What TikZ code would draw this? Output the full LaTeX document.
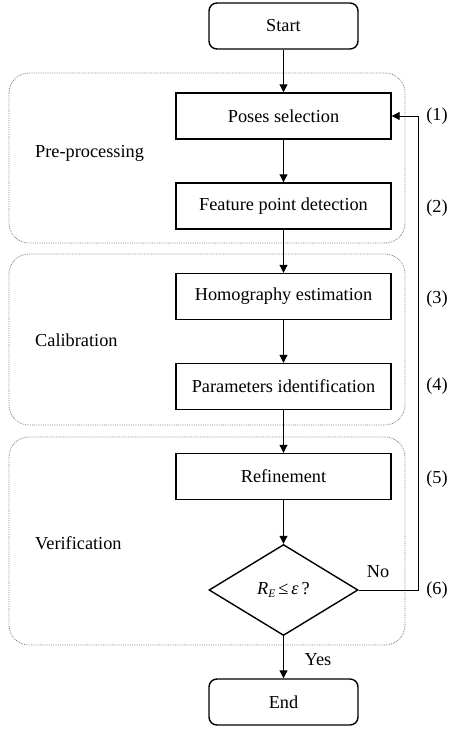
\documentclass[tikz,border=0pt]{standalone}
\usepackage{fontspec}
\setmainfont{Liberation Serif}
\usetikzlibrary{arrows.meta,shapes.geometric}
\begin{document}
\begin{tikzpicture}[x=1pt,y=-1pt,
  every node/.style={font=\fontsize{18.3}{21}\selectfont},
  procbox/.style={draw,line width=1.4pt,minimum width=215pt,minimum height=46pt,inner sep=0pt},
  termbox/.style={draw,line width=1.4pt,rounded corners=8pt,minimum width=149pt,minimum height=46pt,inner sep=0pt},
  decbox/.style={draw,line width=1.4pt,diamond,minimum width=149pt,minimum height=91pt,inner sep=0pt,aspect=1.64},
  groupbox/.style={draw=gray,densely dotted,line width=0.8pt,rounded corners=20pt},
  flow/.style={line width=1pt,-{Triangle[length=8pt,width=8pt]}},
  grplabel/.style={anchor=west,inner sep=0pt},
  numlabel/.style={inner sep=0pt}]
\useasboundingbox (0,0) rectangle (474,736);
% groups
\draw[groupbox] (9,73) rectangle (405,243);
\draw[groupbox] (9,254) rectangle (405,425);
\draw[groupbox] (9,437) rectangle (405,645);
\node[grplabel] (gpre) at (35,153) {Pre-processing};
\node[grplabel] (gcal) at (35,340) {Calibration};
\node[grplabel] (gver) at (35,543) {Verification};
% nodes
\node[termbox] (start) at (283.5,26) {Start};
\node[procbox] (poses) at (283.5,116) {Poses selection};
\node[procbox] (feat) at (283.5,206) {Feature point detection};
\node[procbox] (homo) at (283.5,296.5) {Homography estimation};
\node[procbox] (param) at (283.5,386.5) {Parameters identification};
\node[procbox] (refine) at (283.5,476.5) {Refinement};
\node[decbox] (dec) at (283.5,590) {\textit{R}\raisebox{-0.35ex}{\fontsize{11.5}{12}\selectfont\textit{E}}\,≤\,\textit{ε}\,?};
\node[termbox] (end) at (283.5,702) {End};
% flow
\draw[flow] (start) -- (poses);
\draw[flow] (poses) -- (feat);
\draw[flow] (feat) -- (homo);
\draw[flow] (homo) -- (param);
\draw[flow] (param) -- (refine);
\draw[flow] (refine) -- (dec);
\draw[flow] (dec) -- (end);
\coordinate (fbb) at (418,590);
\coordinate (fbt) at (418,116);
\draw[flow] (dec.east) -- (fbb) -- (fbt) -- (poses.east);
\node (no) at (378,572) {No};
\node (yes) at (318,660) {Yes};
% step numbers
\node[numlabel] (n1) at (437,116) {(1)};
\node[numlabel] (n2) at (437,208) {(2)};
\node[numlabel] (n3) at (437,299) {(3)};
\node[numlabel] (n4) at (437,386) {(4)};
\node[numlabel] (n5) at (437,479) {(5)};
\node[numlabel] (n6) at (437,590) {(6)};
\end{tikzpicture}
\end{document}
